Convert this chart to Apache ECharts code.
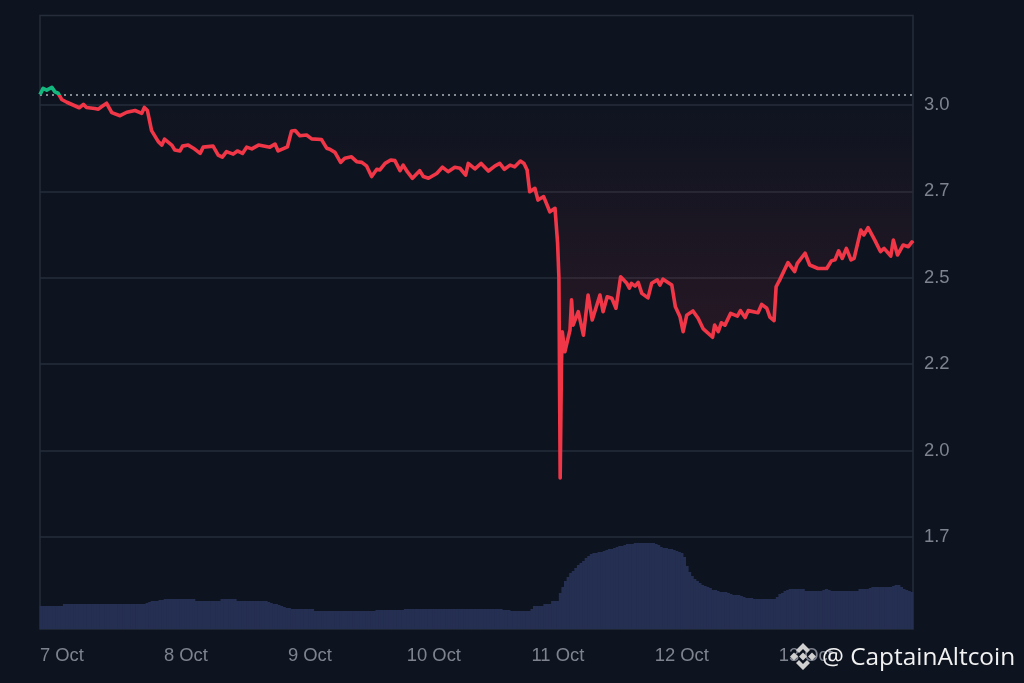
<!DOCTYPE html>
<html>
<head>
<meta charset="utf-8" />
<title></title>
<script src="https://cdn.jsdelivr.net/npm/echarts@6/dist/echarts.min.js"></script>
<style>
  html, body { margin: 0; padding: 0; background: #0d1420; }
  #main { width: 1024px; height: 683px; }
</style>
</head>
<body>
<div id="main"></div>
<script>
// hours since the first sample
var priceHours = [
  0,0.2,0.6,1.3,2.3,2.9,3.5,4.2,5.2,6.4,7.6,8.4,9.0,10.6,11.3,11.9,12.9,13.9,15.5,16.8,18.4,19.7,20.2,20.8,21.6,22.9,23.6,24.1,25.5,26.1,
  27.1,27.6,28.7,29.7,31.0,31.6,33.5,34.5,35.3,36.1,37.4,38.2,39.2,40.0,41.0,42.3,44.5,45.5,46.1,47.9,48.7,49.4,50.3,51.6,52.6,54.5,55.5,56.1,57.1,58.2,
  59.0,60.3,61.3,62.3,63.2,64.2,65.2,65.8,66.8,67.9,68.7,69.7,70.3,71.1,72.1,73.5,74.2,75.2,76.8,77.9,79.0,80.3,81.3,82.4,82.9,84.2,85.4,86.8,88.1,89.0,
  89.9,91.0,91.9,93.0,93.7,94.3,94.8,95.8,96.4,97.5,98.7,99.7,100.2,100.45,100.7,100.95,101.1,101.6,102.6,102.9,103.2,104.2,105.2,106.1,106.9,108.4,109.0,109.8,110.7,111.5,
  112.4,113.6,114.1,114.5,115.2,115.8,116.5,117.7,118.4,119.5,120.0,120.6,122.3,123.0,123.9,124.5,125.2,126.4,127.4,128.4,130.2,130.6,131.3,131.9,132.6,133.7,135.0,135.6,136.5,137.1,
  139.0,139.7,140.7,141.3,142.1,142.5,143.2,144.8,146.1,146.6,148.1,149.0,150.6,152.3,153.2,153.9,154.6,155.3,156.1,157.0,157.6,158.9,159.5,160.3,161.6,162.7,163.4,164.7,165.2,166.0,
  167.1,168.1,168.8,169
];
var priceValues = [
  3.030,3.034,3.048,3.043,3.051,3.038,3.034,3.016,3.008,3.000,2.992,3.002,2.993,2.990,2.988,2.995,3.005,2.978,2.969,2.979,2.984,2.976,2.993,2.984,2.926,2.894,2.884,2.901,2.884,2.870,
  2.867,2.881,2.884,2.875,2.860,2.878,2.881,2.855,2.849,2.865,2.858,2.867,2.860,2.878,2.873,2.884,2.878,2.887,2.867,2.879,2.925,2.926,2.911,2.913,2.902,2.900,2.875,2.872,2.863,2.834,
  2.846,2.850,2.836,2.834,2.824,2.793,2.814,2.812,2.831,2.841,2.839,2.810,2.826,2.807,2.788,2.810,2.793,2.788,2.802,2.820,2.807,2.820,2.817,2.797,2.831,2.815,2.831,2.809,2.824,2.831,
  2.814,2.826,2.821,2.838,2.831,2.812,2.749,2.759,2.725,2.735,2.691,2.701,2.600,2.503,1.921,2.253,2.344,2.286,2.349,2.436,2.363,2.402,2.334,2.450,2.378,2.450,2.402,2.445,2.441,2.412,
  2.503,2.484,2.470,2.484,2.476,2.487,2.455,2.442,2.484,2.494,2.479,2.496,2.479,2.416,2.387,2.344,2.392,2.404,2.383,2.352,2.328,2.363,2.344,2.370,2.363,2.397,2.389,2.405,2.385,2.405,
  2.399,2.423,2.412,2.386,2.376,2.474,2.494,2.544,2.518,2.542,2.571,2.537,2.527,2.527,2.549,2.552,2.578,2.556,2.585,2.552,2.556,2.638,2.624,2.645,2.609,2.576,2.585,2.563,2.609,2.566,
  2.595,2.590,2.604,2.600
];
// one bar every half hour, no scale on the picture so arbitrary units
var volumeValues = [
  23,23,23,23,23,23,23,23,23,
  25,25,25,25,25,25,25,25,25,25,25,25,25,25,25,25,25,25,25,25,25,25,25,25,25,25,25,25,25,25,25,25,
  26,27,28,28,28,29,29,
  30,30,30,30,30,30,30,30,30,30,30,30,
  28,28,28,28,28,28,28,28,28,28,
  30,30,30,30,30,30,
  28,28,28,28,28,28,28,28,28,28,28,28,
  27,26,25,25,24,23,22,21,21,20,
  20,20,20,20,20,20,20,20,
  18,18,18,18,18,18,18,18,18,18,18,18,18,18,18,18,18,18,18,18,18,18,18,18,
  19,19,19,19,19,19,19,19,19,19,19,
  20,20,20,20,20,20,20,20,20,20,20,20,20,20,20,20,20,20,20,20,20,20,20,20,20,20,20,20,20,20,20,20,20,20,20,20,20,20,
  19,19,19,18,18,18,18,18,18,18,18,
  20,23,23,23,23,25,25,25,28,28,
  28,36,42,48,52,56,58,61,64,66,68,71,73,75,76,76,77,77,78,79,80,80,81,82,83,83,84,85,85,85,
  86,86,86,86,86,86,86,86,85,84,82,81,81,80,80,79,78,77,76,72,63,57,53,50,48,46,44,43,42,41,
  39,39,38,37,37,37,36,35,34,34,34,33,32,31,31,31,
  30,30,30,30,30,30,30,30,30,32,35,36,38,39,
  40,40,40,40,40,40,38,38,38,38,38,38,38,39,40,39,
  38,38,38,38,38,38,38,38,38,38,38,40,40,40,40,41,
  42,42,42,42,42,42,42,42,43,44,44,42,40,39,38,37
];
var baselinePrice = 3.029;
var yTickValues = [1.75, 2.0, 2.25, 2.5, 2.75, 3.0];
var yTickLabels = ['1.7', '2.0', '2.2', '2.5', '2.7', '3.0'];
var xTickHours = [4.25, 28.25, 52.25, 76.25, 100.25, 124.25, 148.25];
var xTickLabels = ['7 Oct', '8 Oct', '9 Oct', '10 Oct', '11 Oct', '12 Oct', '13 Oct'];

var LINE_COLOR = '#262c3a';
var LABEL_COLOR = '#7f8390';
var FONT = '"Liberation Sans", Arial, sans-serif';

var pricePoints = priceHours.map(function (h, i) { return [h, priceValues[i]]; });
var volumePoints = volumeValues.map(function (v, i) { return [i * 0.5 + 0.25, v]; });

var myChart = echarts.init(document.getElementById('main'));
var option = {
  backgroundColor: '#0d1420',
  animation: false,
  grid: [
    { left: 40, width: 873, top: 18.6, height: 604.8 }, // price, 1.5 to 3.25
    { left: 40, width: 873, top: 15.5, height: 613.5, show: true, borderColor: LINE_COLOR, borderWidth: 1.5, backgroundColor: 'transparent' } // volume + frame
  ],
  xAxis: [
    { type: 'value', gridIndex: 0, min: 0, max: 169, show: false, splitLine: { show: false } },
    {
      type: 'value', gridIndex: 1, min: 0, max: 169,
      axisLine: { show: false }, axisTick: { show: false }, splitLine: { show: false },
      axisLabel: {
        customValues: xTickHours,
        margin: 18,
        color: LABEL_COLOR,
        fontFamily: FONT,
        fontSize: 18.4,
        hideOverlap: false,
        formatter: function (value) { return xTickLabels[xTickHours.indexOf(value)]; }
      }
    }
  ],
  yAxis: [
    {
      type: 'value', gridIndex: 0, position: 'right', min: 1.5, max: 3.25, interval: 0.25,
      axisLine: { show: false }, axisTick: { show: false },
      splitLine: { showMinLine: false, showMaxLine: false, lineStyle: { color: LINE_COLOR, width: 1.5 } },
      axisLabel: {
        customValues: yTickValues,
        margin: 11,
        color: LABEL_COLOR,
        fontFamily: FONT,
        fontSize: 18.4,
        formatter: function (value) { return yTickLabels[yTickValues.indexOf(value)]; }
      }
    },
    { type: 'value', gridIndex: 1, min: 0, max: 613.5, show: false, splitLine: { show: false } }
  ],
  series: [
    {
      type: 'line',
      xAxisIndex: 0,
      yAxisIndex: 0,
      data: pricePoints,
      symbol: 'none',
      z: 5,
      lineStyle: {
        width: 3.6,
        join: 'round',
        // green above the previous close, red below it (close sits at y=95)
        color: {
          type: 'linear', global: true, x: 0, y: 0, x2: 0, y2: 190,
          colorStops: [
            { offset: 0, color: '#14b87f' },
            { offset: 0.5, color: '#14b87f' },
            { offset: 0.5, color: '#f03647' },
            { offset: 1, color: '#f03647' }
          ]
        }
      },
      areaStyle: {
        origin: baselinePrice,
        opacity: 1,
        color: {
          type: 'linear', global: true, x: 0, y: 95, x2: 0, y2: 340,
          colorStops: [
            { offset: 0, color: 'rgba(240,54,71,0)' },
            { offset: 1, color: 'rgba(240,54,71,0.11)' }
          ]
        }
      },
      markLine: {
        silent: true,
        symbol: 'none',
        label: { show: false },
        lineStyle: { color: '#aeb2ba', width: 1.5, type: [2, 4] },
        data: [{ yAxis: baselinePrice }]
      }
    },
    {
      type: 'bar',
      xAxisIndex: 1,
      yAxisIndex: 1,
      data: volumePoints,
      barWidth: 3.2,
      itemStyle: { color: '#252f52' }
    }
  ],
  // watermark
  graphic: [
    { type: 'polygon', z: 100, shape: { points: [[803, 643], [810, 650], [807, 653], [803, 649], [799, 653], [796, 650]] }, style: { fill: '#d0d0d0' } },
    { type: 'polygon', z: 100, shape: { points: [[803, 670], [810, 663], [807, 660], [803, 664], [799, 660], [796, 663]] }, style: { fill: '#d0d0d0' } },
    { type: 'polygon', z: 100, shape: { points: [[803, 652.5], [807, 656.5], [803, 660.5], [799, 656.5]] }, style: { fill: '#d0d0d0' } },
    { type: 'polygon', z: 100, shape: { points: [[794, 652.5], [798, 656.5], [794, 660.5], [790, 656.5]] }, style: { fill: '#d0d0d0' } },
    { type: 'polygon', z: 100, shape: { points: [[812, 652.5], [816, 656.5], [812, 660.5], [808, 656.5]] }, style: { fill: '#d0d0d0' } },
    { type: 'text', z: 100, left: 822, top: 646, style: { text: '@ CaptainAltcoin', fill: '#f2f2f2', font: '24.4px "Open Sans", sans-serif' } }
  ]
};
myChart.setOption(option);
</script>
</body>
</html>
